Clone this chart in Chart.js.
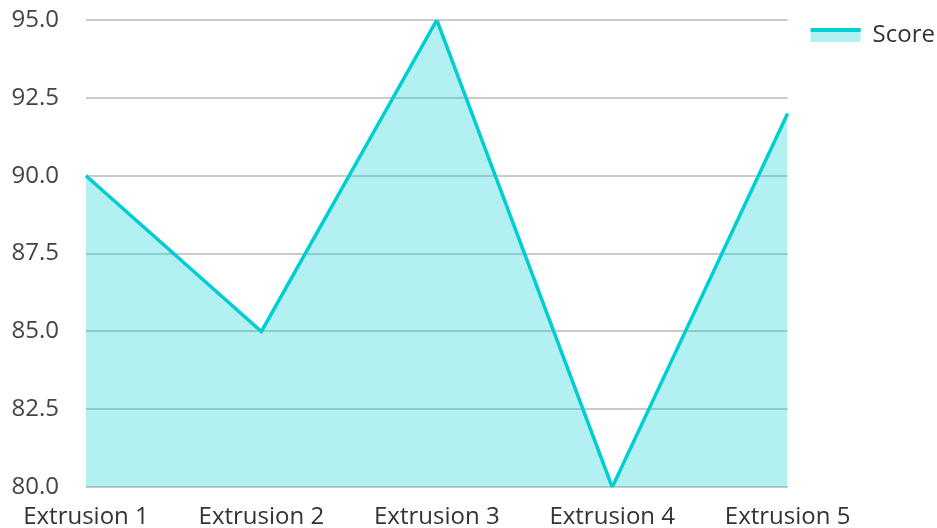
<!DOCTYPE html>
<html>
<head>
<meta charset="utf-8">
<script src="https://cdn.jsdelivr.net/npm/chart.js@4"></script>
<style>
  html, body { margin: 0; padding: 0; background: #fff; }
  #wrap { width: 937px; height: 528px; }
</style>
</head>
<body>
<div id="wrap"><canvas id="chart"></canvas></div>
<script>
const categories = ['Extrusion 1', 'Extrusion 2', 'Extrusion 3', 'Extrusion 4', 'Extrusion 5'];
const scoreValues = [90, 85, 95, 80, 92];
const seriesName = 'Score';
const yMin = 80;
const yMax = 95;
const yStep = 2.5;

const lineColor = '#00CED1';
const fillColor = 'rgba(0, 206, 209, 0.3)';
const textFont = { family: 'Open Sans', size: 24 };

// legend swatch: thick line on top of a light fill box
const legendSwatch = {
    id: 'legendSwatch',
    afterDraw(chart) {
        const legend = chart.legend;
        if (!legend || !legend.legendHitBoxes) return;
        const ctx = chart.ctx;
        const w = legend.options.labels.boxWidth;
        const h = legend.options.labels.boxHeight;
        legend.legendHitBoxes.forEach(box => {
            const top = box.top + (box.height - h) / 2;
            ctx.save();
            ctx.strokeStyle = lineColor;
            ctx.lineWidth = 4;
            ctx.beginPath();
            ctx.moveTo(box.left, top + 2);
            ctx.lineTo(box.left + w, top + 2);
            ctx.stroke();
            ctx.restore();
        });
    }
};

new Chart(document.getElementById('chart'), {
    type: 'line',
    data: {
        labels: categories,
        datasets: [{
            label: seriesName,
            data: scoreValues,
            borderColor: lineColor,
            backgroundColor: fillColor,
            borderWidth: 3.5,
            fill: 'start',
            pointRadius: 0,
            tension: 0
        }]
    },
    options: {
        responsive: true,
        maintainAspectRatio: false,
        animation: false,
        layout: { padding: { left: 12, right: -8, top: 13, bottom: -20 } },
        plugins: {
            tooltip: { enabled: false },
            legend: {
                position: 'right',
                align: 'start',
                labels: {
                    boxWidth: 50,
                    boxHeight: 14,
                    padding: 10,
                    color: '#333',
                    font: textFont,
                    generateLabels(chart) {
                        return chart.data.datasets.map((ds, i) => ({
                            text: ds.label,
                            fillStyle: ds.backgroundColor,
                            strokeStyle: 'rgba(0,0,0,0)',
                            lineWidth: 0,
                            datasetIndex: i,
                            fontColor: '#333'
                        }));
                    }
                }
            }
        },
        scales: {
            x: {
                offset: false,
                grid: { display: false, drawTicks: false },
                border: { display: false },
                ticks: {
                    color: '#333',
                    padding: 16,
                    maxRotation: 0,
                    autoSkip: false,
                    font: textFont
                }
            },
            y: {
                min: yMin,
                max: yMax,
                grid: { color: '#cacaca', drawTicks: false, lineWidth: 2 },
                border: { display: false },
                ticks: {
                    stepSize: yStep,
                    color: '#444',
                    padding: 27,
                    font: textFont,
                    callback: v => Number(v).toFixed(1)
                },
                afterFit(scale) {
                    scale.width = 74;
                    scale.paddingTop = 20;
                    scale.paddingBottom = 0;
                }
            },
            // empty spacer between plot and legend
            gap: {
                type: 'linear',
                position: 'right',
                display: true,
                grid: { display: false, drawTicks: false },
                border: { display: false },
                ticks: { display: false },
                afterFit(scale) {
                    scale.width = 13;
                }
            }
        }
    },
    plugins: [legendSwatch]
});
</script>
</body>
</html>
